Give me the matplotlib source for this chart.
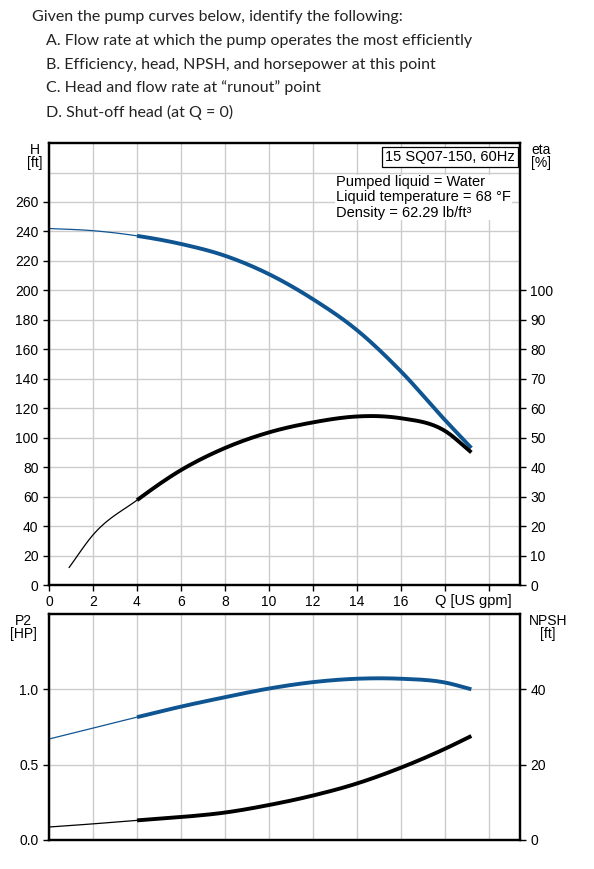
import matplotlib
matplotlib.use("Agg")
import matplotlib.pyplot as plt
import numpy as np

q_h = [0, 2, 4, 6, 8, 10, 12, 14, 16, 18, 19.2]
head = [242, 240.5, 237, 231.5, 223.5, 211, 194, 173, 145, 112, 93]
q_eta = [0.9, 2, 4, 6, 8, 10, 12, 14, 15, 16, 18, 19.2]
eta = [5.8, 17, 28.8, 39, 46.5, 51.8, 55.2, 57.2, 57.3, 56.6, 52.3, 45]
q_p = [0, 2, 4, 6, 8, 10, 12, 14, 16, 18, 19.2]
p2 = [0.086, 0.107, 0.13, 0.152, 0.182, 0.232, 0.295, 0.375, 0.48, 0.605, 0.69]
npsh = [26.8, 29.7, 32.6, 35.4, 37.9, 40.2, 41.9, 42.8, 42.8, 41.8, 40.0]

BLUE = "#0f5591"
plt.rcParams['font.family'] = ['Liberation Sans', 'DejaVu Sans']
fig = plt.figure(figsize=(5.94, 8.69), dpi=100)

lines = ["Given the pump curves below, identify the following:",
         "A. Flow rate at which the pump operates the most efficiently",
         "B. Efficiency, head, NPSH, and horsepower at this point",
         "C. Head and flow rate at \u201crunout\u201d point",
         "D. Shut-off head (at Q = 0)"]
ys = [17, 41, 65, 88, 112]
for i, (t, y) in enumerate(zip(lines, ys)):
    fig.text((32 if i == 0 else 46) / 594, 1 - y / 869, t, family=['Lato', 'DejaVu Sans'],
             fontsize=11.5, va='center', color='#222222')

def smooth(x, y, n=20):
    # piecewise cubic Hermite (Catmull-Rom tangents) for drawing only
    x = np.asarray(x, float); y = np.asarray(y, float)
    m = np.gradient(y, x)
    xs, ys_ = [], []
    for i in range(len(x) - 1):
        h = x[i + 1] - x[i]
        t = np.linspace(0, 1, n, endpoint=False)
        h00 = 2*t**3 - 3*t**2 + 1; h10 = t**3 - 2*t**2 + t
        h01 = -2*t**3 + 3*t**2; h11 = t**3 - t**2
        xs.append(x[i] + t*h)
        ys_.append(h00*y[i] + h10*h*m[i] + h01*y[i+1] + h11*h*m[i+1])
    xs.append([x[-1]]); ys_.append([y[-1]])
    return np.concatenate(xs), np.concatenate(ys_)

def split(ax, x, y, color, xs=4):
    X, Y = smooth(x, y)
    m1 = X <= xs + 1e-9; m2 = X >= xs - 1e-9
    ax.plot(X[m1], Y[m1], color=color, lw=0.9, solid_capstyle='butt')
    ax.plot(X[m2], Y[m2], color=color, lw=2.8, solid_capstyle='butt')

xmax = 21.4
ax1 = fig.add_axes([0.0825, 0.3268, 0.7925, 0.5086])
ax1.set_xlim(0, xmax); ax1.set_ylim(0, 300)
ax1.set_xticks(range(0, 21, 2))
ax1.set_xticklabels(['0', '2', '4', '6', '8', '10', '12', '14', '16', '', ''])
ax1.set_yticks(range(0, 280, 20))
ax1.grid(True, color='#cccccc', lw=1)
ax1.axhline(280, color='#cccccc', lw=1, zorder=0.5)
split(ax1, q_h, head, BLUE)
ax2 = ax1.twinx()
ax2.set_ylim(0, 150)
ax2.set_yticks(range(0, 110, 10))
split(ax2, q_eta, eta, 'black')
for a in (ax1, ax2):
    a.tick_params(labelsize=10, length=4, width=1, direction='out')
    for s in a.spines.values():
        s.set_linewidth(1.6)
ax1.text(19.3, -6, 'Q [US gpm]', ha='center', va='top', fontsize=10.5)
ax1.text(-0.03, 1.0, 'H\n[ft]', transform=ax1.transAxes, ha='center', va='top', fontsize=10, linespacing=0.9)
ax1.text(1.045, 1.0, 'eta\n[%]', transform=ax1.transAxes, ha='center', va='top', fontsize=10, linespacing=0.9)
ax1.text(0.99, 0.985, '15 SQ07-150, 60Hz', transform=ax1.transAxes, ha='right', va='top', fontsize=10.5,
         bbox=dict(boxstyle='square,pad=0.2', fc='white', ec='black', lw=0.9))
ax1.text(0.61, 0.927, 'Pumped liquid = Water\nLiquid temperature = 68 \u00b0F\nDensity = 62.29 lb/ft\u00b3',
         transform=ax1.transAxes, ha='left', va='top', fontsize=10.5, linespacing=1.1,
         bbox=dict(fc='white', ec='none', pad=0.5))

ax3 = fig.add_axes([0.0825, 0.0334, 0.7925, 0.2601])
ax3.set_xlim(0, xmax); ax3.set_ylim(0, 1.5)
ax3.set_xticks(range(0, 21, 2)); ax3.set_xticklabels([])
ax3.tick_params(axis='x', length=0)
ax3.set_yticks([0, 0.5, 1.0])
ax3.grid(True, color='#cccccc', lw=1)
split(ax3, q_p, p2, 'black')
ax4 = ax3.twinx()
ax4.set_ylim(0, 60)
ax4.set_yticks([0, 20, 40])
split(ax4, q_p, npsh, BLUE)
for a in (ax3, ax4):
    a.tick_params(axis='y', labelsize=10, length=4, width=1)
    for s in a.spines.values():
        s.set_linewidth(1.6)
ax3.text(-0.055, 1.0, 'P2\n[HP]', transform=ax3.transAxes, ha='center', va='top', fontsize=10, linespacing=0.9)
ax3.text(1.06, 1.0, 'NPSH\n[ft]', transform=ax3.transAxes, ha='center', va='top', fontsize=10, linespacing=0.9)

fig.savefig('out.png', dpi=100)
